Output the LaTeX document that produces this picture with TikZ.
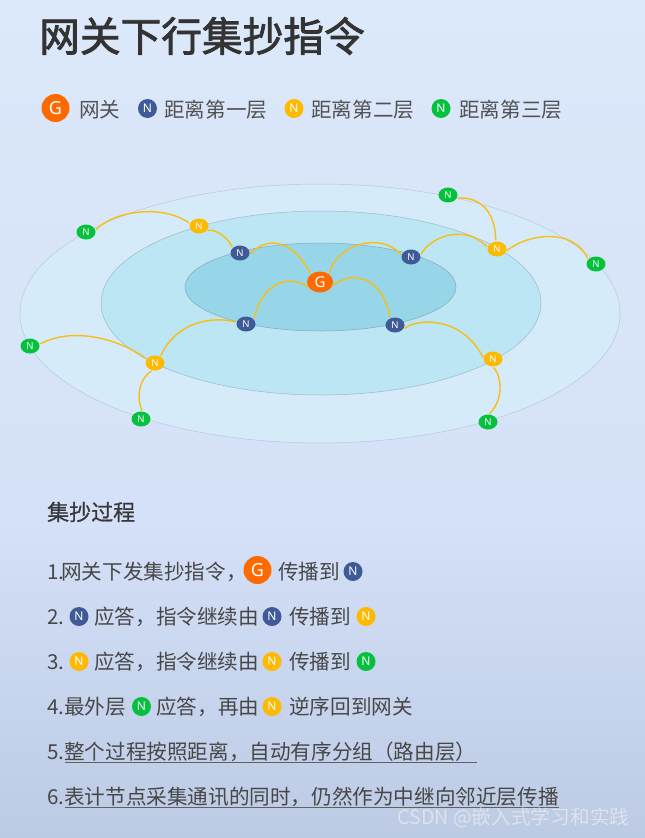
\documentclass[tikz,border=0pt]{standalone}
\usepackage{fontspec}
\setmainfont{Noto Sans CJK SC}
\newfontfamily\cjk{Noto Sans CJK SC}
\newfontfamily\cjktitle[FakeBold=2]{Noto Sans CJK SC}
\newfontfamily\cjkhead[FakeBold=0.8]{Noto Sans CJK SC}
\newfontfamily\badgefont{Noto Sans}
\usepackage{xcolor}
\usetikzlibrary{shapes.geometric}
\definecolor{gwcolor}{HTML}{FF6A00}
\definecolor{firstcolor}{HTML}{3F5A96}
\definecolor{secondcolor}{HTML}{FFB900}
\definecolor{thirdcolor}{HTML}{06C13D}
\definecolor{linkcolor}{HTML}{F7BE16}
\definecolor{bgtop}{HTML}{DCE9FA}
\definecolor{bgmid}{HTML}{D4E1F8}
\definecolor{bgbottom}{HTML}{BCCAE4}
\definecolor{outerfill}{HTML}{D6EBF9}
\definecolor{outerline}{HTML}{BCC7D4}
\definecolor{middlefill}{HTML}{BCE6F4}
\definecolor{middleline}{HTML}{9FB8C8}
\definecolor{innerfill}{HTML}{97D6E8}
\definecolor{innerline}{HTML}{86A8BC}
\definecolor{markcolor}{HTML}{DDE2EB}
\pgfdeclareverticalshading{pagebg}{100bp}{
	color(0bp)=(bgbottom);
	color(25bp)=(bgbottom);
	color(44bp)=(bgmid);
	color(75bp)=(bgtop);
	color(100bp)=(bgtop)
}
\tikzset{
	ring/.style={draw=#1, line width=0.5pt},
	link/.style={draw=linkcolor, line width=1.4pt, shorten <=1pt, shorten >=1pt},
	mapn/.style={ellipse, fill=#1, text=white, inner sep=0pt, minimum width=19pt, minimum height=15pt, font=\badgefont\bfseries\fontsize{9.5}{10}\selectfont},
	mapg/.style={ellipse, fill=gwcolor, text=white, inner sep=0pt, minimum width=26pt, minimum height=21pt, font=\badgefont\bfseries\fontsize{15}{16}\selectfont},
	dotn/.style={circle, fill=#1, text=white, inner sep=0pt, minimum size=19pt, font=\badgefont\bfseries\fontsize{12}{13}\selectfont},
	dotg/.style={circle, fill=gwcolor, text=white, inner sep=0pt, minimum size=28pt, font=\badgefont\bfseries\fontsize{18}{19}\selectfont},
	legendtext/.style={anchor=west, inner sep=0pt, text=black!68, font=\cjk\fontsize{20.6}{22}\selectfont},
	steptext/.style={anchor=west, inner sep=0pt, text=black!72, font=\cjk\fontsize{20.6}{22}\selectfont},
	rule/.style={draw=black!62, line width=1pt}
}
\begin{document}
\begin{tikzpicture} [x=1pt, y=-1pt]
	\useasboundingbox (0, 0) rectangle (645, 838);
	\shade [shading=pagebg] (0, 0) rectangle (645, 838);

	\node [anchor=west, inner sep=0pt, text=black!80, font=\cjktitle\fontsize{40.7}{44}\selectfont] (title) at (39, 36) {网关下行集抄指令};

	\node [dotg] (leggw) at (55.5, 108) {G};
	\node [legendtext] (legtxtgw) at (79, 109.5) {网关};
	\node [dotn=firstcolor] (legfirst) at (147.5, 108.5) {N};
	\node [legendtext] (legtxtfirst) at (164, 109.5) {距离第一层};
	\node [dotn=secondcolor] (legsecond) at (294, 108.5) {N};
	\node [legendtext] (legtxtsecond) at (311, 109.5) {距离第二层};
	\node [dotn=thirdcolor] (legthird) at (441, 108.5) {N};
	\node [legendtext] (legtxtthird) at (459, 109.5) {距离第三层};

	\draw [ring=outerline, fill=outerfill] (320, 313.5) ellipse [x radius=300, y radius=129.5];
	\draw [ring=middleline, fill=middlefill] (321, 303) ellipse [x radius=220, y radius=92];
	\draw [ring=innerline, fill=innerfill] (320.5, 287) ellipse [x radius=135.5, y radius=44];

	\node [mapg] (gw) at (320, 282) {G};

	\node [mapn=firstcolor] (firsta) at (240, 253) {N};
	\node [mapn=firstcolor] (firstb) at (411, 257) {N};
	\node [mapn=firstcolor] (firstc) at (246, 324) {N};
	\node [mapn=firstcolor] (firstd) at (395, 325) {N};

	\node [mapn=secondcolor] (seconda) at (199, 226) {N};
	\node [mapn=secondcolor] (secondb) at (497, 249) {N};
	\node [mapn=secondcolor] (secondc) at (155, 363) {N};
	\node [mapn=secondcolor] (secondd) at (493, 359) {N};

	\node [mapn=thirdcolor] (thirda) at (86, 232) {N};
	\node [mapn=thirdcolor] (thirdb) at (448, 195) {N};
	\node [mapn=thirdcolor] (thirdc) at (596, 264) {N};
	\node [mapn=thirdcolor] (thirdd) at (30, 346) {N};
	\node [mapn=thirdcolor] (thirde) at (141, 419) {N};
	\node [mapn=thirdcolor] (thirdf) at (488, 422) {N};

	\draw [link] (firsta.-10) .. controls +(16, -17) and +(-20, -38) .. (gw.140);
	\draw [link] (gw.205) .. controls +(-18, -12) and +(10, -40) .. (firstc.30);
	\draw [link] (gw.40) .. controls +(7, -30) and +(-20, -24) .. (firstb.170);
	\draw [link] (gw.-20) .. controls +(15, -14) and +(-9, -47) .. (firstd.125);

	\draw [link] (seconda.-32) .. controls +(8, -2) and +(-6, -12) .. (firsta.145);
	\draw [link] (firstc.170) .. controls +(-21, -6) and +(17, -37) .. (secondc.50);
	\draw [link] (firstb.10) .. controls +(11, -20) and +(-22, -23) .. (secondb.170);
	\draw [link] (firstd.-25) .. controls +(17, -12) and +(-20, -40) .. (secondd.175);

	\draw [link] (thirda.10) .. controls +(18, -19) and +(-28, -20) .. (seconda.165);
	\draw [link] (secondc.155) .. controls +(-27, -20) and +(34, -18) .. (thirdd.10);
	\draw [link] (secondc.250) .. controls +(-14, 9) and +(-6, -13) .. (thirde.80);
	\draw [link] (secondb.100) .. controls +(0, -26) and +(26, -2) .. (thirdb.-20);
	\draw [link] (secondb.-15) .. controls +(18, -16) and +(-16, -34) .. (thirdc.150);
	\draw [link] (secondd.-90) .. controls +(9, 10) and +(15, -14) .. (thirdf.85);

	\node [anchor=west, inner sep=0pt, text=black!78, font=\cjkhead\fontsize{22}{24}\selectfont] (head) at (47, 512) {集抄过程};

	% steps
	\node [steptext] (stepa) at (47, 572) {1.\hspace{-3pt}网关下发集抄指令，};
	\node [dotg] (stepagw) at (257.5, 570) {G};
	\node [steptext] (stepatxt) at (278, 572) {传播到};
	\node [dotn=firstcolor] (stepan) at (353, 571.5) {N};

	\node [steptext] (stepb) at (47, 617) {2.};
	\node [dotn=firstcolor] (stepbn) at (79, 616.5) {N};
	\node [steptext] (stepbtxt) at (94, 617) {应答，指令继续由};
	\node [dotn=firstcolor] (stepbm) at (272, 616.5) {N};
	\node [steptext] (stepbend) at (289, 617) {传播到};
	\node [dotn=secondcolor] (stepby) at (366, 616.5) {N};

	\node [steptext] (stepc) at (47, 662) {3.};
	\node [dotn=secondcolor] (stepcn) at (79, 661.5) {N};
	\node [steptext] (stepctxt) at (94, 662) {应答，指令继续由};
	\node [dotn=secondcolor] (stepcm) at (272, 661.5) {N};
	\node [steptext] (stepcend) at (289, 662) {传播到};
	\node [dotn=thirdcolor] (stepcy) at (366, 661.5) {N};

	\node [steptext] (stepd) at (47, 707) {4.最外层};
	\node [dotn=thirdcolor] (stepdn) at (141.5, 706.5) {N};
	\node [steptext] (stepdtxt) at (156, 707) {应答，再由};
	\node [dotn=secondcolor] (stepdm) at (272, 706.5) {N};
	\node [steptext] (stepdend) at (289, 707) {逆序回到网关};

	\node [steptext] (stepe) at (47, 752) {5.整个过程按照距离，自动有序分组（路由层）};
	\coordinate (rulea) at (64.5, 762.5);
	\coordinate (ruleb) at (476.5, 762.5);
	\draw [rule] (rulea) -- (ruleb);

	\node [steptext] (stepf) at (47, 797) {6.表计节点采集通讯的同时，仍然作为中继向邻近层传播};
	\coordinate (rulec) at (64.5, 807.5);
	\coordinate (ruled) at (559, 807.5);
	\draw [rule] (rulec) -- (ruled);

	\node [anchor=west, inner sep=0pt, text=markcolor, font=\cjk\fontsize{19.7}{21}\selectfont] (mark) at (397, 818) {CSDN @嵌入式学习和实践};
\end{tikzpicture}
\end{document}
